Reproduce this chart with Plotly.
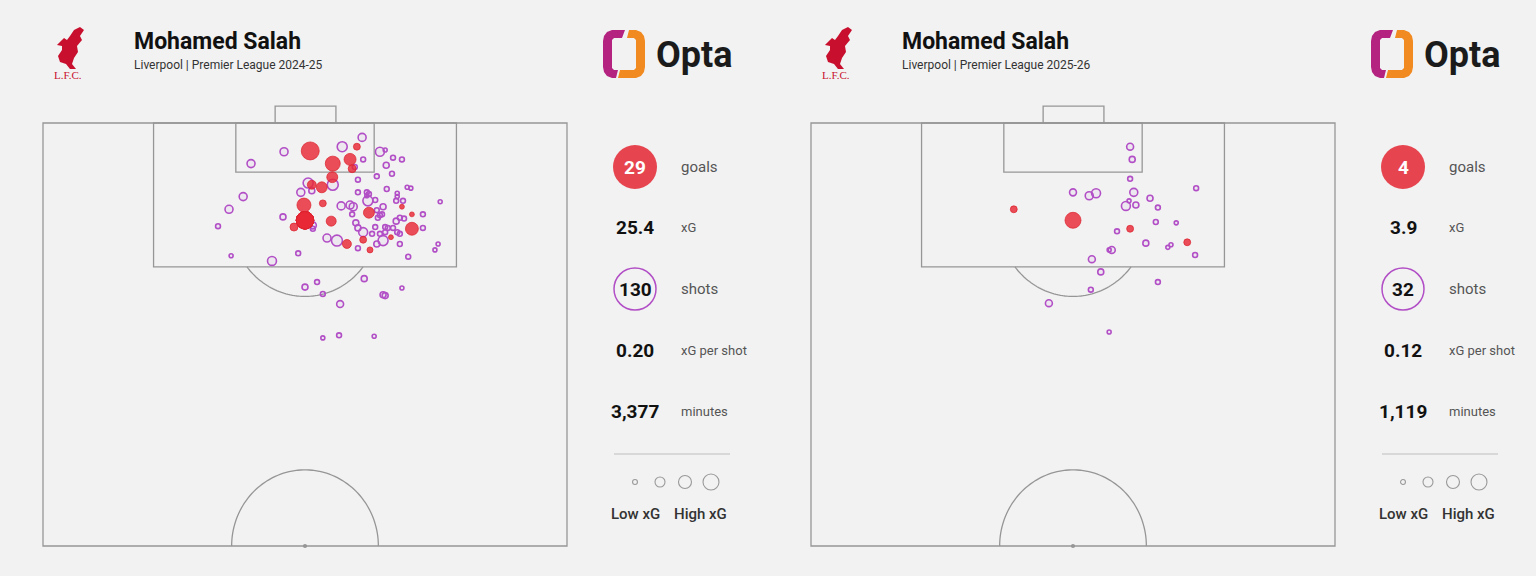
import numpy as np
import plotly.graph_objects as go

# ---------------- DATA ----------------
player = "Mohamed Salah"
club = "Liverpool"
league = "Premier League"
seasons = ["2024-25", "2025-26"]

stat_goals = [29, 4]
stat_xg = [25.4, 3.9]
stat_shots = [130, 32]
stat_xg_per_shot = [0.20, 0.12]
stat_minutes = [3377, 1119]

legend_xg = [0.06, 0.25, 0.42, 0.64]

# 2024-25 goals (w = across pitch 0-100, x = along pitch 50-100, Opta units)
goals24_w = [51.0, 59.9, 55.3, 58.6, 59.0, 55.2, 51.3, 53.2, 49.8, 53.4,
             47.9, 55.0, 62.2, 68.5, 70.4, 70.4, 66.4, 61.1, 58.0, 62.4,
             50.0, 50.0, 50.0, 50.0, 50.0, 50.0, 50.0, 50.0, 50.0]
goals24_x = [96.7, 97.2, 95.2, 95.7, 94.6, 93.6, 92.7, 92.4, 90.3, 90.5,
             87.7, 88.4, 89.4, 90.1, 89.2, 87.5, 86.5, 86.2, 85.7, 85.0,
             88.5, 88.5, 88.5, 88.5, 88.5, 88.5, 88.5, 88.5, 88.5]
goals24_xg = [0.81, 0.12, 0.56, 0.36, 0.16, 0.30, 0.20, 0.30, 0.49, 0.12,
              0.16, 0.25, 0.30, 0.06, 0.06, 0.42, 0.06, 0.12, 0.20, 0.09,
              0.76, 0.76, 0.76, 0.76, 0.76, 0.76, 0.76, 0.76, 0.76]

# 2024-25 non-goal shots
miss24_w = [60.9, 57.1, 46.0, 39.7, 64.3, 65.3, 66.8, 68.5, 65.5, 61.1,
            59.5, 66.6, 63.7, 60.1, 55.3, 50.6, 49.2, 51.3, 38.2, 35.5,
            33.4, 45.8, 65.6, 69.5, 70.2, 60.1, 61.8, 62.2, 67.6, 67.6,
            75.8, 62.0, 63.4, 61.8, 56.9, 58.6, 59.2, 64.9, 67.4, 68.7,
            59.0, 63.7, 64.3, 64.7, 63.9, 67.4, 68.1, 68.9, 72.5, 59.7,
            60.1, 63.4, 61.1, 65.3, 65.8, 66.8, 62.8, 64.3, 65.3, 67.6,
            68.1, 72.5, 51.5, 51.5, 54.2, 56.1, 64.9, 68.1, 63.7, 60.1,
            75.4, 74.8, 69.7, 35.9, 48.7, 43.7, 61.3, 52.3, 50.0, 53.4,
            56.7, 64.9, 65.3, 68.5, 53.4, 56.5, 63.2]
miss24_x = [98.3, 97.2, 96.6, 95.2, 96.6, 96.8, 95.9, 95.7, 95.0, 95.7,
            94.8, 94.0, 93.7, 93.3, 92.7, 92.9, 91.8, 92.0, 91.3, 89.8,
            87.8, 88.9, 92.2, 92.4, 92.3, 91.8, 91.8, 91.6, 91.7, 91.3,
            90.7, 90.8, 90.9, 91.4, 90.2, 90.3, 90.1, 90.1, 90.8, 90.8,
            89.2, 89.7, 89.1, 89.2, 88.8, 88.4, 88.8, 88.7, 89.2, 88.2,
            87.6, 87.7, 87.1, 87.7, 87.6, 87.6, 86.9, 86.9, 87.1, 87.1,
            86.9, 87.6, 87.9, 87.5, 86.4, 86.1, 86.1, 85.7, 85.7, 85.2,
            85.7, 85.0, 84.2, 84.3, 84.6, 83.7, 81.6, 81.2, 80.6, 79.8,
            78.6, 79.7, 79.6, 80.5, 74.6, 74.9, 74.8]
miss24_xg = [0.16, 0.25, 0.16, 0.16, 0.20, 0.04, 0.06, 0.06, 0.09, 0.06,
             0.06, 0.06, 0.06, 0.06, 0.30, 0.25, 0.16, 0.09, 0.16, 0.16,
             0.06, 0.09, 0.06, 0.04, 0.04, 0.06, 0.06, 0.06, 0.04, 0.04,
             0.04, 0.25, 0.06, 0.04, 0.16, 0.16, 0.16, 0.09, 0.06, 0.06,
             0.06, 0.06, 0.06, 0.06, 0.06, 0.09, 0.06, 0.06, 0.06, 0.09,
             0.09, 0.06, 0.20, 0.06, 0.06, 0.06, 0.06, 0.06, 0.06, 0.06,
             0.06, 0.06, 0.12, 0.06, 0.16, 0.30, 0.25, 0.06, 0.09, 0.06,
             0.04, 0.04, 0.06, 0.04, 0.06, 0.20, 0.09, 0.06, 0.09, 0.06,
             0.12, 0.09, 0.09, 0.04, 0.04, 0.06, 0.04]

# 2025-26 goals
goals25_w = [38.7, 50.0, 60.9, 71.8]
goals25_x = [89.8, 88.5, 87.5, 85.9]
goals25_xg = [0.12, 0.64, 0.12, 0.12]

# 2025-26 non-goal shots
miss25_w = [60.9, 61.3, 60.9, 61.6, 50.0, 53.1, 54.4, 64.7, 73.5, 60.1,
            60.7, 62.0, 66.2, 65.8, 69.7, 58.4, 63.9, 68.1, 68.7, 73.3,
            57.4, 56.9, 53.6, 55.3, 53.4, 66.2, 45.4, 56.9]
miss25_x = [97.2, 95.7, 93.4, 91.8, 91.8, 91.4, 91.7, 91.1, 92.3, 90.2,
            90.8, 90.3, 90.0, 88.3, 88.2, 87.2, 85.8, 85.3, 85.6, 84.4,
            85.0, 85.0, 83.9, 82.4, 80.3, 81.2, 78.7, 75.3]
miss25_xg = [0.12, 0.09, 0.06, 0.16, 0.12, 0.16, 0.20, 0.09, 0.06, 0.20,
             0.04, 0.09, 0.06, 0.06, 0.04, 0.06, 0.09, 0.04, 0.04, 0.06,
             0.12, 0.04, 0.12, 0.09, 0.06, 0.06, 0.12, 0.04]

panels = [
    dict(goals=(goals24_w, goals24_x, goals24_xg), miss=(miss24_w, miss24_x, miss24_xg)),
    dict(goals=(goals25_w, goals25_x, goals25_xg), miss=(miss25_w, miss25_x, miss25_xg)),
]

# ---------------- STYLE / LAYOUT ----------------
W, H = 1536, 576
BG = "#f2f2f2"
LINE = "#969696"
RED = "rgba(232,40,52,0.82)"
RED_SOLID = "#e6454f"
PURPLE = "#b24fc6"
FONT = "Roboto"
PANEL_OFFSET = 768
SIZE_K = 20.0  # marker diameter = K * sqrt(xG)


def size_of(xg):
    return SIZE_K * np.sqrt(np.asarray(xg, dtype=float))


def PX(x):
    return x / W


def PY(y):
    return 1 - y / H


def pix_path(pts, close=True):
    s = "M " + " L ".join(f"{PX(x):.5f},{PY(y):.5f}" for x, y in pts)
    return s + (" Z" if close else "")


# pitch pixel geometry (left panel)
PITCH_L, PITCH_R = 43, 567
PITCH_BOTTOM = 546
UX = (PITCH_R - PITCH_L) / 100.0   # px per width unit
UY = 8.46                           # px per length unit
W_RANGE = [-1, 101]
X_RANGE = [49.5, 102.5]

fig = go.Figure()
shapes = []
annotations = []

for i, p in enumerate(panels):
    off = i * PANEL_OFFSET
    xa = "x" if i == 0 else "x2"
    ya = "y" if i == 0 else "y2"
    xname = "xaxis" if i == 0 else "xaxis2"
    yname = "yaxis" if i == 0 else "yaxis2"
    d0 = (PITCH_L + off + W_RANGE[0] * UX) / W
    d1 = (PITCH_L + off + W_RANGE[1] * UX) / W
    ybot = PITCH_BOTTOM + (50 - X_RANGE[0]) * UY
    ytop = PITCH_BOTTOM - (X_RANGE[1] - 50) * UY
    fig.update_layout(**{
        xname: dict(domain=[d0, d1], range=W_RANGE, visible=False, fixedrange=True,
                    anchor=ya),
        yname: dict(domain=[1 - ybot / H, 1 - ytop / H], range=X_RANGE, visible=False,
                    fixedrange=True, anchor=xa),
    })

    # pitch lines
    ln = dict(color=LINE, width=1.3)
    for (w0, w1, x0, x1) in [(0, 100, 50, 100), (21.1, 78.9, 83, 100),
                             (36.8, 63.2, 94.2, 100), (44.3, 55.9, 100, 102)]:
        shapes.append(dict(type="rect", xref=xa, yref=ya, x0=w0, x1=w1, y0=x0, y1=x1,
                           line=ln, fillcolor="rgba(0,0,0,0)", layer="below"))
    # penalty arc
    t = np.linspace(-np.arccos(5.5 / 9.0), np.arccos(5.5 / 9.0), 60)
    aw = 50 + 14 * np.sin(t)
    ax_ = 88.5 - 9 * np.cos(t)
    shapes.append(dict(type="path", xref=xa, yref=ya, layer="below", line=ln,
                       path="M " + " L ".join(f"{a:.3f},{b:.3f}" for a, b in zip(aw, ax_))))
    # centre circle (top half)
    t = np.linspace(-np.pi / 2, np.pi / 2, 80)
    cw = 50 + 14 * np.sin(t)
    cx = 50 + 9 * np.cos(t)
    shapes.append(dict(type="path", xref=xa, yref=ya, layer="below", line=ln,
                       path="M " + " L ".join(f"{a:.3f},{b:.3f}" for a, b in zip(cw, cx))))
    shapes.append(dict(type="circle", xref=xa, yref=ya, x0=49.6, x1=50.4, y0=49.75, y1=50.25,
                       fillcolor=LINE, line=dict(width=0), layer="below"))

    # shots
    mw, mx, mxg = p["miss"]
    fig.add_trace(go.Scatter(x=mw, y=mx, xaxis=xa, yaxis=ya, mode="markers",
                             hoverinfo="skip", showlegend=False,
                             marker=dict(size=size_of(mxg), color="rgba(178,79,198,0.06)",
                                         opacity=1,
                                         line=dict(color=PURPLE, width=1.6))))
    gw, gx, gxg = p["goals"]
    fig.add_trace(go.Scatter(x=gw, y=gx, xaxis=xa, yaxis=ya, mode="markers",
                             hoverinfo="skip", showlegend=False,
                             marker=dict(size=size_of(gxg), color=RED, opacity=1,
                                         line=dict(color="rgba(220,35,48,0.9)", width=0.8))))

    # ---- header ----
    annotations.append(dict(text=f"<b>{player}</b>", x=PX(132 + off), y=PY(42), xref="paper",
                            yref="paper", xanchor="left", yanchor="middle", showarrow=False,
                            font=dict(family=FONT, size=23, color="#111")))
    annotations.append(dict(text=f"{club} | {league} {seasons[i]}", x=PX(132 + off), y=PY(65),
                            xref="paper", yref="paper", xanchor="left", yanchor="middle",
                            showarrow=False, font=dict(family=FONT, size=12, color="#333")))
    # LFC crest (simplified liver bird)
    bird = [(60, 42), (64, 38), (67, 40), (70, 36), (74, 30), (80, 27), (84, 30), (80, 36),
            (82, 40), (77, 46), (78, 52), (74, 58), (72, 64), (76, 69), (70, 69), (66, 64),
            (60, 62), (58, 56), (62, 50), (62, 46), (57, 45)]
    shapes.append(dict(type="path", xref="paper", yref="paper",
                       path=pix_path([(x + off, y) for x, y in bird]),
                       fillcolor="#c8102e", line=dict(width=0)))
    annotations.append(dict(text="L.F.C.", x=PX(68 + off), y=PY(75), xref="paper", yref="paper",
                            xanchor="center", yanchor="middle", showarrow=False,
                            font=dict(family="Liberation Serif", size=11, color="#c8102e")))
    # Opta logo
    left_piece = [(625, 30), (612, 30), (607, 32), (604, 36), (603, 41), (603, 67), (604, 72),
                  (607, 76), (612, 78), (616, 78), (618, 70), (614, 70), (612, 68), (612, 40),
                  (614, 38), (622, 38)]
    right_piece = [(629, 30), (636, 30), (641, 32), (644, 36), (645, 41), (645, 67), (644, 72),
                   (641, 76), (636, 78), (618, 78), (620, 70), (634, 70), (636, 68), (636, 40),
                   (634, 38), (627, 38)]
    shapes.append(dict(type="path", xref="paper", yref="paper",
                       path=pix_path([(x + off, y) for x, y in left_piece]),
                       fillcolor="#b4237f", line=dict(width=0)))
    shapes.append(dict(type="path", xref="paper", yref="paper",
                       path=pix_path([(x + off, y) for x, y in right_piece]),
                       fillcolor="#f28a22", line=dict(width=0)))
    annotations.append(dict(text="<b>Opta</b>", x=PX(654 + off), y=PY(55), xref="paper",
                            yref="paper", xanchor="left", yanchor="middle", showarrow=False,
                            font=dict(family=FONT, size=36, color="#1b1b1b")))

    # ---- stats panel ----
    cx0 = 635 + off
    lx = 679 + off
    rows = [
        (f"{stat_goals[i]}", "goals", 167, 15, "#ffffff"),
        (f"{stat_xg[i]:.1f}", "xG", 228, 13, "#111"),
        (f"{stat_shots[i]}", "shots", 289, 15, "#111"),
        (f"{stat_xg_per_shot[i]:.2f}", "xG per shot", 350, 13, "#111"),
        (f"{stat_minutes[i]:,}", "minutes", 411, 13, "#111"),
    ]
    shapes.append(dict(type="circle", xref="paper", yref="paper",
                       x0=PX(cx0 - 22), x1=PX(cx0 + 22), y0=PY(167 + 22), y1=PY(167 - 22),
                       fillcolor=RED_SOLID, line=dict(width=0)))
    shapes.append(dict(type="circle", xref="paper", yref="paper",
                       x0=PX(cx0 - 21), x1=PX(cx0 + 21), y0=PY(289 + 21), y1=PY(289 - 21),
                       fillcolor="rgba(0,0,0,0)", line=dict(color=PURPLE, width=1.5)))
    for num, lab, yy, lsize, ncol in rows:
        annotations.append(dict(text=f"<b>{num}</b>", x=PX(cx0), y=PY(yy), xref="paper",
                                yref="paper", xanchor="center", yanchor="middle",
                                showarrow=False, font=dict(family=FONT, size=19, color=ncol)))
        annotations.append(dict(text=lab, x=PX(lx), y=PY(yy), xref="paper", yref="paper",
                                xanchor="left", yanchor="middle", showarrow=False,
                                font=dict(family=FONT, size=lsize, color="#555")))
    shapes.append(dict(type="line", xref="paper", yref="paper", x0=PX(614 + off),
                       x1=PX(730 + off), y0=PY(454), y1=PY(454),
                       line=dict(color="#bdbdbd", width=1.2)))
    # xG legend
    leg_x = [635, 660, 685, 711]
    for lxp, d in zip(leg_x, size_of(legend_xg)):
        r = d / 2
        shapes.append(dict(type="circle", xref="paper", yref="paper",
                           x0=PX(lxp + off - r), x1=PX(lxp + off + r),
                           y0=PY(482 + r), y1=PY(482 - r),
                           fillcolor="rgba(0,0,0,0)", line=dict(color="#999", width=1.1)))
    annotations.append(dict(text="Low xG", x=PX(635 + off), y=PY(514), xref="paper",
                            yref="paper", xanchor="center", yanchor="middle", showarrow=False,
                            font=dict(family=FONT, size=15, color="#333", weight=500)))
    annotations.append(dict(text="High xG", x=PX(700 + off), y=PY(514), xref="paper",
                            yref="paper", xanchor="center", yanchor="middle", showarrow=False,
                            font=dict(family=FONT, size=15, color="#333", weight=500)))

fig.update_layout(width=W, height=H, margin=dict(l=0, r=0, t=0, b=0),
                  paper_bgcolor=BG, plot_bgcolor=BG, shapes=shapes,
                  annotations=annotations, showlegend=False)

fig.write_html("out.html", config={"displayModeBar": False})
